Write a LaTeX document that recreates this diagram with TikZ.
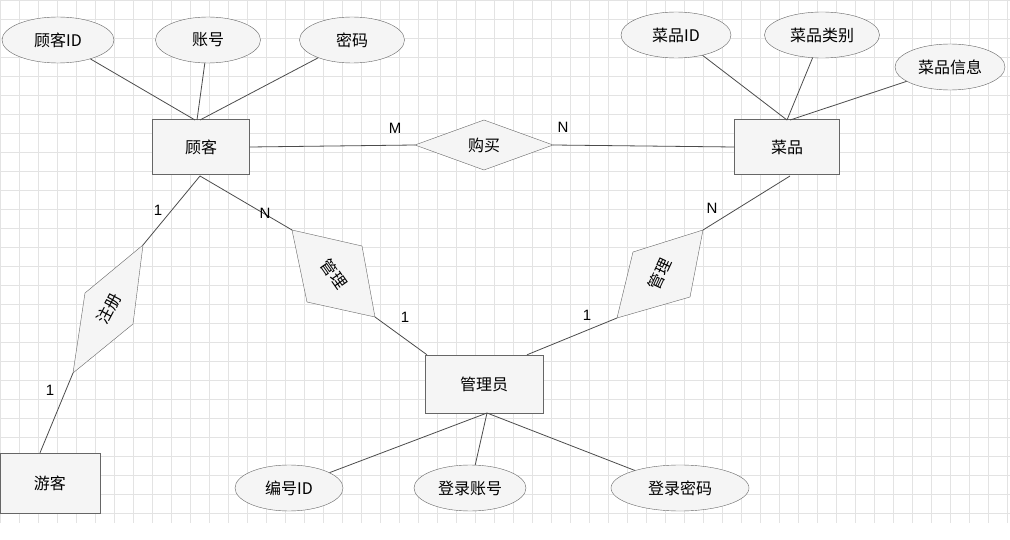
\documentclass[tikz,border=0pt]{standalone}
\usepackage{fontspec}
\setmainfont{Liberation Sans}
\newfontfamily\cjk{Noto Sans CJK SC}
\usetikzlibrary{shapes.geometric}
\begin{document}
\begin{tikzpicture}[x=1pt,y=-1pt,
  ent/.style={draw=gray!80!black,fill=gray!8,minimum width=97pt,minimum height=55pt,font=\cjk\fontsize{16}{16}\selectfont,inner sep=0},
  attr/.style={ellipse,draw=gray!80!black,fill=gray!8,minimum height=46pt,font=\cjk\fontsize{16}{16}\selectfont,inner sep=0},
  rel/.style={draw=gray!80!black,fill=gray!8},
  ln/.style={draw=gray!60!black,line width=0.8pt},
  card/.style={font=\fontsize{15}{15}\selectfont}]
\useasboundingbox (0,0) rectangle (1010,540);
\fill[white] (0,0) rectangle (1010,540);
\foreach \i in {0,19,...,1010} \draw[gray!22,line width=0.6pt] (\i,0) -- (\i,523);
\foreach \j in {0,19,...,523} \draw[gray!22,line width=0.6pt] (0,\j) -- (1010,\j);
% entities
\node[ent] (gk) at (201,147) {顾客};
\node[ent,minimum width=105pt] (cp) at (787,147) {菜品};
\node[ent,minimum width=118pt,minimum height=58pt] (gly) at (484,384) {管理员};
\node[ent,minimum width=100pt,minimum height=60pt] (yk) at (50,483) {游客};
% attributes
\node[attr,minimum width=112pt] (a1) at (58,40) {顾客ID};
\node[attr,minimum width=105pt] (a2) at (208,40) {账号};
\node[attr,minimum width=105pt] (a3) at (352,40) {密码};
\node[attr,minimum width=110pt] (b1) at (676,35) {菜品ID};
\node[attr,minimum width=115pt] (b2) at (822,35) {菜品类别};
\node[attr,minimum width=110pt] (b3) at (950,67) {菜品信息};
\node[attr,minimum width=108pt] (c1) at (289,488) {编号ID};
\node[attr,minimum width=112pt] (c2) at (470,488) {登录账号};
\node[attr,minimum width=138pt] (c3) at (680,488) {登录密码};
% relationship corners
\coordinate (g1) at (415,145); \coordinate (g2) at (484,120); \coordinate (g3) at (553,145); \coordinate (g4) at (484,170);
\coordinate (z1) at (143,245); \coordinate (z2) at (85,293); \coordinate (z3) at (73,373); \coordinate (z4) at (133,324);
\coordinate (l1) at (292,230); \coordinate (l2) at (362,246); \coordinate (l3) at (375,317); \coordinate (l4) at (307,302);
\coordinate (r1) at (703,230); \coordinate (r2) at (690,297); \coordinate (r3) at (617,318); \coordinate (r4) at (633,252);
\draw[rel] (g1)--(g2)--(g3)--(g4)--cycle;
\draw[rel] (z1)--(z2)--(z3)--(z4)--cycle;
\draw[rel] (l1)--(l2)--(l3)--(l4)--cycle;
\draw[rel] (r1)--(r2)--(r3)--(r4)--cycle;
\node[font=\cjk\fontsize{16}{16}\selectfont] (tg) at (484,145) {购买};
\node[font=\cjk\fontsize{16}{16}\selectfont,rotate=62] (tz) at (109,309) {注册};
\node[font=\cjk\fontsize{16}{16}\selectfont,rotate=-55] (tl) at (334,274) {管理};
\node[font=\cjk\fontsize{16}{16}\selectfont,rotate=65] (tr) at (660,274) {管理};
% lines
\coordinate (gkt1) at (195,120); \coordinate (gkt2) at (197,120); \coordinate (gkt3) at (200,120);
\draw[ln] (a1) -- (gkt1); \draw[ln] (a2) -- (gkt2); \draw[ln] (a3) -- (gkt3);
\coordinate (cpt) at (787,120); \coordinate (cpt2) at (790,120);
\draw[ln] (b1) -- (cpt); \draw[ln] (b2) -- (cpt); \draw[ln] (b3) -- (cpt2);
\draw[ln] (gk.east) -- (g1); \draw[ln] (g3) -- (cp.west);
\coordinate (gkb) at (200,176); \coordinate (cpb) at (790,176);
\draw[ln] (gkb) -- (z1); \draw[ln] (z3) -- (yk.north -| 40,0);
\draw[ln] (gkb) -- (l1); \draw[ln] (l3) -- (gly.north -| 427,0);
\draw[ln] (cpb) -- (r1); \draw[ln] (r3) -- (gly.north -| 527,0);
\coordinate (glyb) at (487,413);
\draw[ln] (glyb) -- (c1); \draw[ln] (glyb) -- (c2); \draw[ln] (glyb) -- (c3);
% cardinalities
\node[card] (m1) at (395,128) {M};
\node[card] (m2) at (563,127) {N};
\node[card] (m3) at (158,210) {1};
\node[card] (m4) at (265,213) {N};
\node[card] (m5) at (405,317) {1};
\node[card] (m6) at (587,315) {1};
\node[card] (m7) at (712,208) {N};
\node[card] (m8) at (50,390) {1};
\end{tikzpicture}
\end{document}
